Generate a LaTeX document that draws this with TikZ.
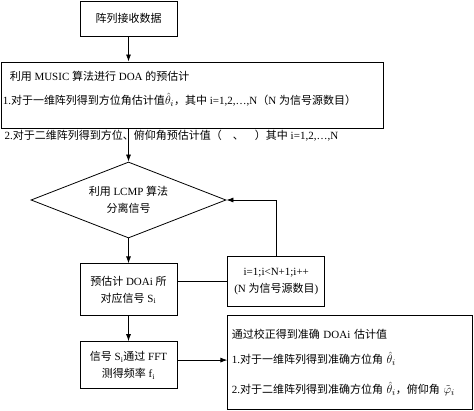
\documentclass[tikz,border=0pt]{standalone}
\usepackage{fontspec}
\setmainfont{Liberation Serif}
\newfontfamily\cjk{Noto Sans CJK SC}
\newcommand{\zh}[1]{{\cjk #1}}
\newcommand{\mth}[1]{{\fontsize{13}{17}\selectfont$#1$}}
\usetikzlibrary{arrows.meta, positioning, shapes.geometric}
\tikzset{
  box/.style={rectangle, draw=black, line width=0.8pt, fill=white,
              minimum width=97pt, minimum height=#1,
              inner sep=2pt, align=center},
  bigbox/.style={rectangle, draw=black, line width=0.9pt,
                 minimum width=382pt, minimum height=66pt},
  decbox/.style={diamond, draw=black, line width=0.8pt, aspect=2.57,
                 minimum width=195pt, minimum height=76pt,
                 inner sep=1pt, align=center},
  arr/.style={-{Latex[length=7pt, width=5pt]}, line width=0.8pt},
  txt/.style={anchor=west, inner sep=0pt},
}

\begin{document}
\begin{tikzpicture}[x=1pt, y=1pt, font=\fontsize{11}{17}\selectfont]
  \useasboundingbox (0,0) rectangle (474,-411);

  %% INPUT
  \node[box=35pt] (recv) at (128.5,-18.5) {\zh{阵列接收数据}};

  %% MUSIC PRE-ESTIMATION
  \node[bigbox] (music) at (192,-95) {};
  \node[txt] (musicA) at ([xshift=9pt, yshift=-15pt]music.north west)
       {\zh{利用} MUSIC \zh{算法进行} DOA \zh{的预估计}};
  \node[txt] (music1) at ([xshift=2pt, yshift=-38pt]music.north west)
       {1.\zh{对于一维阵列得到方位角估计值}\mth{\hat{\theta}_i}\zh{，其中} i=1,2,\ldots,N\zh{（}N \zh{为信号源数目）}};
  \node[txt] (music2) at ([xshift=4pt, yshift=-7pt]music.south west)
       {2.\zh{对于二维阵列得到方位、俯仰角预估计值（\quad、\quad）其中} i=1,2,\ldots,N};

  \draw[arr] (recv) -- (recv |- music.north);

  %% LCMP SEPARATION LOOP
  \node[decbox] (lcmp) at (128.5,-200) {\zh{利用} LCMP \zh{算法}\\\zh{分离信号}};
  \node[box=52pt, below=25pt of lcmp] (si)
       {\zh{预估计} DOAi \zh{所}\\\zh{对应信号} S\textsubscript{i}};
  \node[box=50pt, right=50pt of si, yshift=8pt] (loop)
       {i=1;i<N+1;i++\\(N \zh{为信号源数目})};
  \node[box=47pt, below=25pt of si] (fft)
       {\zh{信号} S\textsubscript{i}\zh{通过} FFT\\\zh{测得频率} f\textsubscript{i}};

  \draw[arr] (music.south -| lcmp) -- (lcmp.north);
  \draw[arr] (lcmp) -- (si);
  \draw[arr] (si) -- (fft);
  \draw[line width=0.8pt] (loop.west -| si.east) -- (loop.west);
  \draw[arr] (loop.north) |- (lcmp.east);

  %% CORRECTED RESULT
  \node[box=94pt, text width=237pt, inner xsep=4pt, align=left,
        right=50pt of fft, yshift=2.5pt] (result)
       {\zh{通过校正得到准确} DOAi \zh{估计值}\\[8pt]
        1.\zh{对于一维阵列得到准确方位角} \mth{\hat{\theta}_i}\\[13pt]
        2.\zh{对于二维阵列得到准确方位角} \mth{\hat{\theta}_i}\zh{，俯仰角} \mth{\tilde{\varphi}_i}};

  \draw[arr] ([yshift=5pt]fft.east) -- ([yshift=5pt]fft.east -| result.west);

\end{tikzpicture}
\end{document}
